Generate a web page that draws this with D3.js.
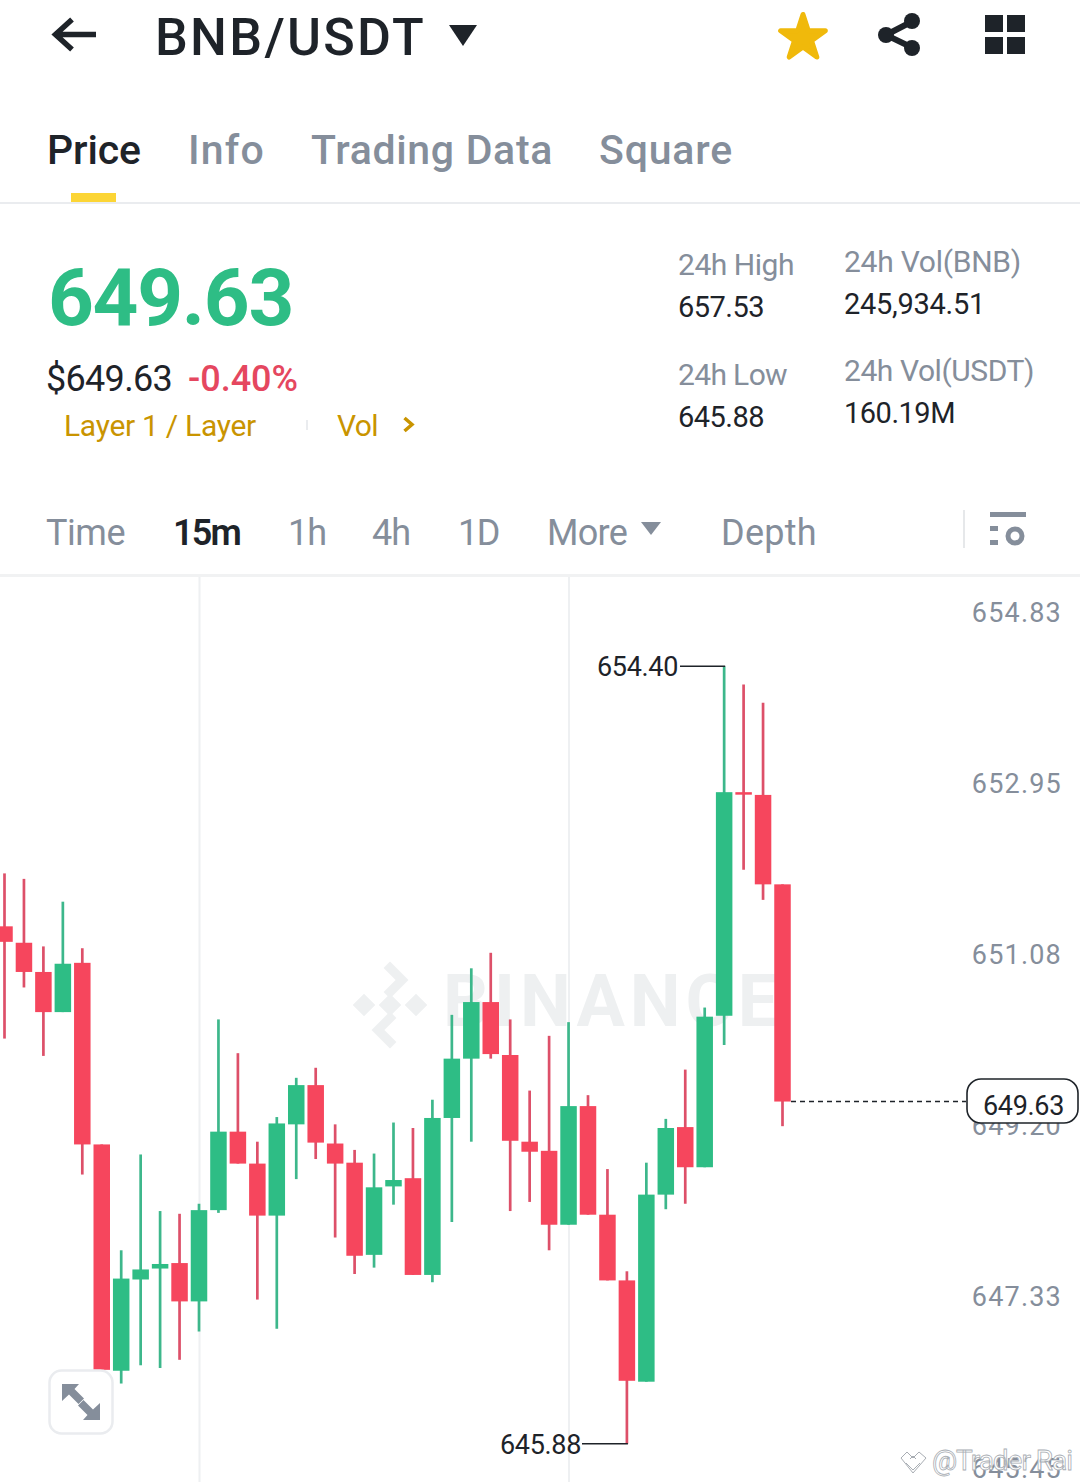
<!DOCTYPE html>
<html>
<head>
<meta charset="utf-8">
<script src="https://cdn.jsdelivr.net/npm/d3@7/dist/d3.min.js"></script>
<style>html,body{margin:0;padding:0;background:#fff}svg{display:block}</style>
</head>
<body>
<svg id="c" width="1080" height="1482" viewBox="0 0 1080 1482"></svg>
<script>
// ---- chart data ----
const open  = [651.55,651.37,651.05,650.61,651.15,649.16,646.68,647.68,647.80,647.86,647.44,648.44,649.30,648.95,648.38,649.38,649.81,649.17,648.96,647.95,648.70,648.79,647.73,649.45,650.10,650.72,650.14,649.19,649.09,648.28,649.58,648.39,647.67,646.56,648.61,649.35,648.91,650.57,653.02,652.99,652.01];
const high  = [652.13,652.07,651.33,651.82,651.31,649.16,648.00,649.05,648.43,648.40,648.51,650.53,650.16,649.19,649.46,649.89,650.00,649.38,649.10,649.06,649.40,649.34,649.65,650.58,651.09,651.26,650.53,649.75,650.35,650.50,649.70,648.89,647.77,648.96,649.44,649.98,650.66,654.40,654.20,654.00,652.01];
const low   = [650.32,650.88,650.13,650.61,648.83,646.69,646.54,646.74,646.71,646.80,647.11,648.41,648.95,647.46,647.14,648.78,649.00,648.14,647.74,647.81,648.50,647.73,647.65,648.31,649.19,650.10,648.43,648.53,648.00,648.28,648.39,647.67,645.88,646.56,648.45,648.51,648.91,650.25,652.17,651.84,649.36];
const close = [651.38,651.05,650.61,651.14,649.16,646.69,647.69,647.79,647.85,647.44,648.44,649.30,648.95,648.38,649.39,649.81,649.18,648.95,647.94,648.69,648.77,647.73,649.45,650.10,650.72,650.15,649.20,649.08,648.28,649.58,648.39,647.67,646.57,648.61,649.34,648.91,650.56,653.02,653.01,652.01,649.63];
const bullish = [0,0,0,1,0,0,1,1,1,0,1,1,0,0,1,1,0,0,0,1,1,0,1,1,1,0,0,0,0,1,0,0,0,1,1,0,1,1,0,0,0];
const priceTicks = [654.83,652.95,651.08,649.20,647.33,645.45];
const verticalGridAt = [10,29];
const lastPrice = 649.63;
const highMark = {index:37, price:654.40};
const lowMark  = {index:32, price:645.88};
const pairName = "BNB/USDT";
const tabs = ["Price","Info","Trading Data","Square"];
const intervals = ["Time","15m","1h","4h","1D","More","Depth"];

const svg = d3.select("#c");
const RED="#f6465d", GREEN="#2ebd85", DARK="#1e2329", GREY="#858e9b", LINE="#eef0f2", GOLD="#c99400";
const FONT="Roboto, 'Noto Sans', sans-serif";
const fmt = d3.format(".2f");

const x = d3.scaleLinear().domain([0,40]).range([4.5,782.5]);
const y = d3.scaleLinear().domain([654.83,645.45]).range([627,1483]);

// Text fitted to a measured left/right extent
function label(parent,text,x0,x1,base,size,weight,fill){
  const t = parent.append("text").attr("x",x0).attr("y",base)
    .attr("font-family",FONT).attr("font-size",size).attr("font-weight",weight)
    .attr("fill",fill).text(text);
  const w = t.node().getComputedTextLength();
  const n = text.length;
  t.style("letter-spacing",((x1-x0-w)/n)+"px");
  return t;
}

svg.append("rect").attr("width",1080).attr("height",1482).attr("fill","#fff");

// ---- header ----
const head = svg.append("g");
head.append("path").attr("d","M96 34.5H57M72 19.5L55.5 34.5L72 49.5")
  .attr("fill","none").attr("stroke",DARK).attr("stroke-width",5.5);
label(head,pairName,155,426,55,52,500,DARK);
head.append("path").attr("d","M449 25H477L463 46Z").attr("fill",DARK);
head.append("path").attr("transform","translate(803,38)")
  .attr("d",d3.symbol(d3.symbolStar,620)()).attr("fill","#f0b90b")
  .attr("stroke","#f0b90b").attr("stroke-width",5).attr("stroke-linejoin","round");
head.append("path").attr("d","M913 21L886 35L913 48").attr("fill","none").attr("stroke",DARK).attr("stroke-width",6);
[[912,21],[886,35],[912,48]].forEach(p=>head.append("circle").attr("cx",p[0]).attr("cy",p[1]).attr("r",8).attr("fill",DARK));
[[985,15],[1007,15],[985,37],[1007,37]].forEach(p=>head.append("rect").attr("x",p[0]).attr("y",p[1]).attr("width",18).attr("height",17).attr("fill",DARK));

// ---- tabs ----
const tabExt=[[47,141],[188,265],[311,553],[599,733]];
tabs.forEach((t,i)=>label(svg,t,tabExt[i][0],tabExt[i][1],164,41,500,i===0?DARK:GREY));
svg.append("rect").attr("x",71).attr("y",193).attr("width",45).attr("height",9).attr("fill","#fcd535");
svg.append("rect").attr("x",0).attr("y",202).attr("width",1080).attr("height",2).attr("fill","#eaecef");

// ---- price block ----
label(svg,fmt(lastPrice),48,293,325,80,700,GREEN);
label(svg,"$"+fmt(lastPrice),46,172,391,36,400,DARK);
label(svg,"-0.40%",188,298,391,36,500,"#e5475f");
label(svg,"Layer 1 / Layer",64,256,436,30,400,GOLD);
svg.append("rect").attr("x",306).attr("y",420).attr("width",2).attr("height",10).attr("fill","#eaecef");
label(svg,"Vol",337,378,436,30,400,GOLD);
svg.append("path").attr("d","M404.5 418L412 424.5L404.5 431").attr("fill","none").attr("stroke",GOLD).attr("stroke-width",3.5);

const stats=[["24h High",678,794,275,GREY,30],["657.53",678,764,317,DARK,29],
 ["24h Vol(BNB)",844,1021,272,GREY,30],["245,934.51",844,985,314,DARK,29],
 ["24h Low",678,787,385,GREY,30],["645.88",678,764,427,DARK,29],
 ["24h Vol(USDT)",844,1034,381,GREY,30],["160.19M",844,955,423,DARK,29]];
stats.forEach(s=>label(svg,s[0],s[1],s[2],s[3],s[5],400,s[4]));

// ---- interval bar ----
const intExt=[[46,125],[173,240],[288,326],[372,410],[458,499],[547,627],[721,817]];
intervals.forEach((t,i)=>label(svg,t,intExt[i][0],intExt[i][1],545,36,i===1?600:400,i===1?DARK:GREY));
svg.append("path").attr("d","M641 522H661L651 535Z").attr("fill",GREY);
svg.append("rect").attr("x",963).attr("y",510).attr("width",2).attr("height",38).attr("fill","#e6e8ea");
const cfg=svg.append("g").attr("fill",GREY);
cfg.append("rect").attr("x",990).attr("y",512).attr("width",36).attr("height",5);
cfg.append("rect").attr("x",990).attr("y",526).attr("width",8).attr("height",5);
cfg.append("rect").attr("x",990).attr("y",540).attr("width",8).attr("height",5);
cfg.append("circle").attr("cx",1015).attr("cy",536).attr("r",7).attr("fill","none").attr("stroke",GREY).attr("stroke-width",5);
svg.append("rect").attr("x",0).attr("y",574).attr("width",1080).attr("height",3).attr("fill","#f1f2f3");

// ---- grid ----
const grid = svg.append("g");
const yAxis = d3.axisRight(y).tickValues(priceTicks).tickSize(1080).tickFormat(fmt);
const yg = grid.append("g").call(yAxis);
yg.select(".domain").remove();
yg.selectAll("line").attr("stroke",LINE).attr("stroke-width",2);
const xAxis = d3.axisBottom(x).tickValues(verticalGridAt).tickSize(906).tickFormat("");
const xg = grid.append("g").attr("transform","translate(0,577)").call(xAxis);
xg.select(".domain").remove();
xg.selectAll("line").attr("stroke",LINE).attr("stroke-width",2);

// ---- background watermark ----
const wm = svg.append("g").attr("fill","#eef0f1");
wm.append("text").attr("x",443).attr("y",1026).attr("font-family",FONT).attr("font-size",72)
  .attr("font-weight",700).style("letter-spacing","5px").text("BINANCE");
[[390,980,13],[364,1005,8],[390,1005,8],[390,1030,13]].forEach((d,i)=>{
  wm.append("path").attr("transform",`translate(${d[0]},${d[1]}) rotate(45)`)
    .attr("d",i===0||i===3?`M${-d[2]} ${-d[2]}H${d[2]}V${d[2]}H${d[2]-9}V${-d[2]+9}H${-d[2]}Z`:`M${-d[2]} ${-d[2]}H${d[2]}V${d[2]}H${-d[2]}Z`)
    .attr("transform",i===3?`translate(${d[0]},${d[1]}) rotate(225)`:`translate(${d[0]},${d[1]}) rotate(${i===0?45:45})`);
});
wm.append("path").attr("transform","translate(416,1005) rotate(45)").attr("d","M-8 -8H8V8H-8Z");

// ---- candles ----
const candles = d3.range(open.length).map(i=>({i,o:open[i],h:high[i],l:low[i],c:close[i],up:!!bullish[i]}));
const BW=16.5;
const cg = svg.append("g").selectAll("g").data(candles).join("g");
cg.append("line").attr("x1",d=>x(d.i)).attr("x2",d=>x(d.i)).attr("y1",d=>y(d.h)).attr("y2",d=>y(d.l))
  .attr("stroke",d=>d.up?"#3db78b":"#dd5069").attr("stroke-width",2.7);
cg.append("rect").attr("x",d=>x(d.i)-BW/2).attr("width",BW)
  .attr("y",d=>y(Math.max(d.o,d.c))).attr("height",d=>Math.max(2.5,Math.abs(y(d.o)-y(d.c))))
  .attr("fill",d=>d.up?GREEN:RED);

// ---- axis labels ----
yg.raise();
yg.selectAll("line").remove();
yg.selectAll("text").attr("x",1062).attr("dy",null).attr("dx",0)
  .attr("transform","translate(0,-6)").attr("text-anchor","end")
  .attr("font-family",FONT).attr("font-size",27).attr("fill",GREY).style("letter-spacing","1.2px");

// ---- high/low annotations ----
const ann = svg.append("g");
ann.append("line").attr("x1",680).attr("x2",x(highMark.index)+1).attr("y1",y(highMark.price)).attr("y2",y(highMark.price)).attr("stroke",DARK).attr("stroke-width",1.6);
label(ann,fmt(highMark.price),597,678,676,27,400,DARK);
ann.append("line").attr("x1",582).attr("x2",x(lowMark.index)+1).attr("y1",y(lowMark.price)).attr("y2",y(lowMark.price)).attr("stroke",DARK).attr("stroke-width",1.6);
label(ann,fmt(lowMark.price),500,581,1454,27,400,DARK);

// ---- last price ----
svg.append("line").attr("x1",791).attr("x2",966).attr("y1",y(lastPrice)).attr("y2",y(lastPrice))
  .attr("stroke",DARK).attr("stroke-width",1.6).attr("stroke-dasharray","5,4");
svg.append("rect").attr("x",967).attr("y",1079).attr("width",111).attr("height",44).attr("rx",14)
  .attr("fill","#fff").attr("stroke",DARK).attr("stroke-width",1.6);
label(svg,fmt(lastPrice),983,1064,1115,27,400,DARK);

// ---- expand button ----
svg.append("rect").attr("x",49.5).attr("y",1370.5).attr("width",63).attr("height",63).attr("rx",12)
  .attr("fill","#fff").attr("stroke","#eaecef").attr("stroke-width",2.5);
const ex=svg.append("g").attr("fill",GREY);
ex.append("path").attr("d","M62 1384H79L74.5 1389L84 1398.5L78.5 1404L69 1394.5L62 1401Z");
ex.append("path").attr("d","M100 1420H83L87.5 1415L78 1405.5L83.5 1400L93 1409.5L100 1403Z");

// ---- signature ----
const sig=svg.append("g");
sig.append("path").attr("d","M901 1458L907 1452L913 1458L919 1452L926 1458M906 1463L913 1470L920 1463M910 1459L913 1456L916 1459M901 1458L913 1473L926 1458")
  .attr("fill","none").attr("stroke","#a8adb3").attr("stroke-width",1);
const st=label(sig,"@Trader Rai",932,1072,1470,28,400,"#fff");
st.attr("stroke","#a9aeb4").attr("stroke-width",0.8);
</script>
</body>
</html>
